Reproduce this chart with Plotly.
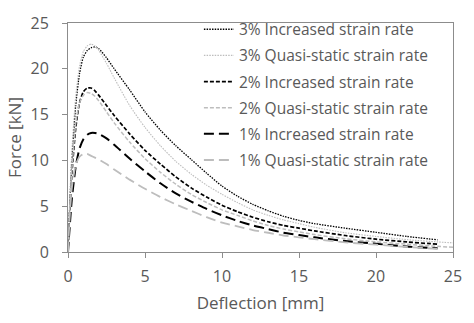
import plotly.graph_objects as go

deflection = [0, 0.1, 0.25, 0.5, 0.75, 1, 1.25, 1.5, 1.75, 2, 2.5, 3, 4, 5, 6, 7, 8, 9, 10,
              11, 12, 13, 14, 15, 16, 18, 20, 22, 24]
deflection_ext = deflection + [25]

inc_3 = [0, 4.5, 10, 16, 19.5, 21.3, 22.0, 22.3, 22.4, 22.2, 21.2, 20.0, 17.7, 15.3, 13.3, 11.6,
         10.1, 8.6, 7.2, 6.1, 5.2, 4.5, 3.9, 3.45, 3.1, 2.6, 2.15, 1.7, 1.33]
qs_3 = [0, 5, 11, 17, 20.3, 21.9, 22.5, 22.7, 22.5, 22.0, 20.6, 19.0, 16.0, 13.6, 11.6, 9.9,
        8.5, 7.3, 6.3, 5.4, 4.6, 4.0, 3.5, 3.1, 2.7, 2.1, 1.7, 1.35, 1.1, 1.0]
inc_2 = [0, 4, 8.5, 13.5, 16.3, 17.5, 17.9, 17.9, 17.6, 17.1, 16.0, 14.9, 12.9, 11.1, 9.6, 8.2,
         7.0, 6.0, 5.1, 4.4, 3.8, 3.3, 2.9, 2.6, 2.3, 1.8, 1.4, 1.1, 0.85]
qs_2 = [0, 4.2, 9, 14, 16.3, 17.1, 17.4, 17.3, 17.0, 16.5, 15.3, 14.1, 12.0, 10.2, 8.7, 7.4,
        6.3, 5.4, 4.6, 4.0, 3.4, 2.9, 2.5, 2.2, 1.9, 1.45, 1.1, 0.85, 0.62, 0.52]
inc_1 = [0, 2.5, 5.8, 9.3, 11.3, 12.3, 12.8, 13.0, 13.0, 12.9, 12.4, 11.7, 10.2, 8.8, 7.5, 6.4,
         5.5, 4.7, 4.0, 3.4, 2.9, 2.5, 2.1, 1.85, 1.6, 1.2, 0.9, 0.6, 0.4]
qs_1 = [0, 3.5, 7, 9.5, 10.4, 10.7, 10.7, 10.5, 10.3, 10.1, 9.6, 9.0, 7.9, 6.9, 6.0, 5.2,
        4.5, 3.8, 3.2, 2.8, 2.4, 2.1, 1.8, 1.6, 1.4, 1.05, 0.8, 0.55, 0.35]

names = ["3% Increased strain rate", "3% Quasi-static strain rate",
         "2% Increased strain rate", "2% Quasi-static strain rate",
         "1% Increased strain rate", "1% Quasi-static strain rate"]
ticks = [0, 5, 10, 15, 20, 25]

FONT = "Open Sans"
TXT = "#595959"
AX = "#8c8c8c"

series = [
    (deflection, inc_3, "black", 1.3, "1.5px,1.2px"),
    (deflection_ext, qs_3, "#bdbdbd", 1.1, "1.5px,1.2px"),
    (deflection, inc_2, "black", 1.7, "4px,2px"),
    (deflection_ext, qs_2, "#bdbdbd", 1.5, "4px,2px"),
    (deflection, inc_1, "black", 2.0, "10px,5px"),
    (deflection, qs_1, "#bdbdbd", 1.8, "10px,5px"),
]

fig = go.Figure()
for i, (xs, ys, col, w, dash) in enumerate(series):
    fig.add_trace(go.Scatter(
        x=xs, y=ys, mode="lines", name=names[i], legendgroup=str(i),
        line=dict(color=col, width=w, dash=dash, shape="spline", smoothing=0.6),
    ))

fig.update_layout(
    width=474, height=323,
    margin=dict(l=68, r=17, t=12, b=71),
    paper_bgcolor="white", plot_bgcolor="white",
    font=dict(family=FONT, size=16, color=TXT),
    legend=dict(x=0.34, xanchor="left", y=1.045, yanchor="top",
                bgcolor="rgba(0,0,0,0)", borderwidth=0, maxheight=320,
                font=dict(family=FONT, size=15.5, color=TXT),
                tracegroupgap=3, itemwidth=30),
    showlegend=True,
)
fig.update_xaxes(
    range=[0, 25], tickvals=ticks, showgrid=False, zeroline=False,
    showline=True, linecolor=AX, linewidth=1, mirror=True,
    ticks="outside", ticklen=5, tickcolor=AX, ticklabelstandoff=5,
    tickfont=dict(size=16, color=TXT),
    title=dict(text="Deflection [mm]", standoff=10, font=dict(size=17, color=TXT)),
)
fig.update_yaxes(
    range=[0, 25], tickvals=ticks, showgrid=False, zeroline=False,
    showline=True, linecolor=AX, linewidth=1, mirror=True,
    ticks="outside", ticklen=5, tickcolor=AX, ticklabelstandoff=10,
    tickfont=dict(size=16, color=TXT),
    title=dict(text="Force [kN]", standoff=4, font=dict(size=17, color=TXT)),
)

fig.write_html("out.html")
